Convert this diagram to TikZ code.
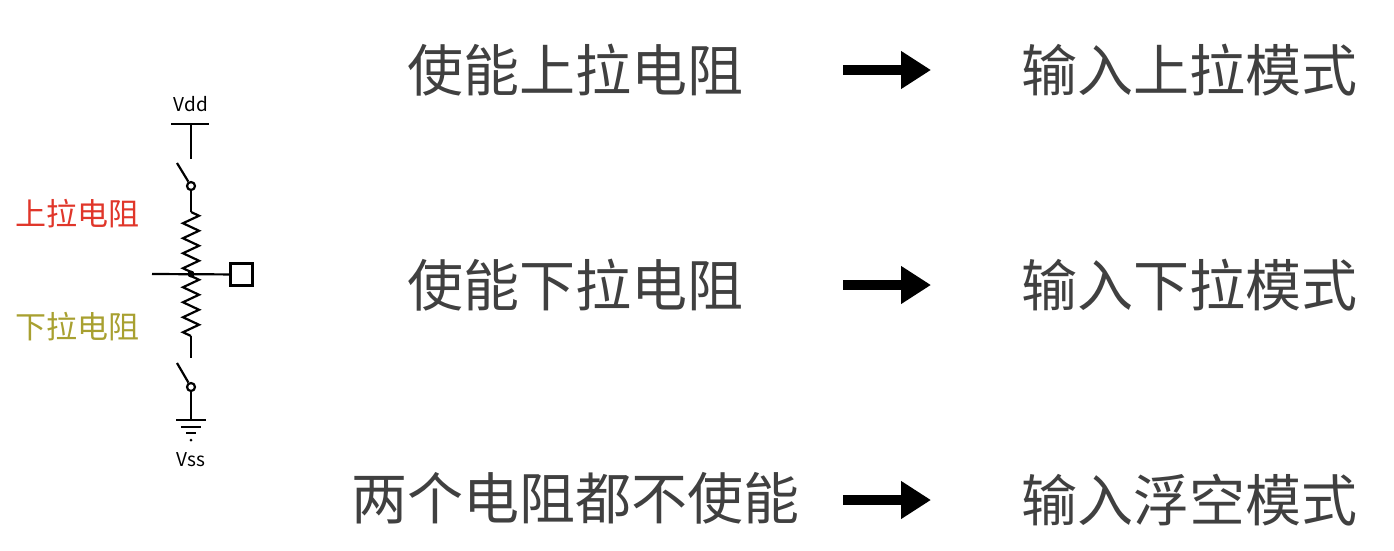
\documentclass[tikz,border=0pt]{standalone}
\usepackage{fontspec}
\setmainfont{Noto Sans CJK SC}
\usetikzlibrary{arrows.meta,decorations.pathmorphing}
\definecolor{txtgray}{HTML}{404040}
\definecolor{pullup}{HTML}{E0362A}
\definecolor{pulldown}{HTML}{A8A030}
\tikzset{
  big/.style={font=\fontsize{56}{56}\selectfont, text=txtgray, inner sep=0pt},
  small/.style={font=\fontsize{31}{31}\selectfont, inner sep=0pt},
  wire/.style={line width=2.2pt},
  res/.style={wire, decorate, decoration={zigzag, segment length=15pt, amplitude=8pt}},
  go/.style={line width=10pt, -{Triangle[length=30pt,width=36pt]}},
}
\begin{document}
\begin{tikzpicture}[x=1pt,y=-1pt]
\useasboundingbox (0,0) rectangle (1394,551);
% circuit
\node[small, font=\fontsize{19}{19}\selectfont] (vdd) at (191,104) {Vdd};
\node[small, font=\fontsize{19}{19}\selectfont] (vss) at (191,460) {Vss};
\coordinate (vddl) at (171,124); \coordinate (vddr) at (209,124);
\coordinate (vtop) at (191,124);
\coordinate (s1a) at (191,159); \coordinate (s1b) at (177,163);
\coordinate (r1t) at (191,212); \coordinate (r1b) at (191,272);
\coordinate (mid) at (191,274);
\coordinate (r2t) at (191,276); \coordinate (r2b) at (191,336);
\coordinate (s2a) at (191,358); \coordinate (s2b) at (177,363);
\coordinate (gnd) at (191,420);
\coordinate (inl) at (152,274);
\node[draw, wire, minimum size=22pt, inner sep=0pt] (pin) at (241.5,274.5) {};
\node[draw, wire, circle, minimum size=8pt, inner sep=0pt, fill=white] (c1) at (191,186) {};
\node[draw, wire, circle, minimum size=8pt, inner sep=0pt, fill=white] (c2) at (191,387) {};
\draw[wire] (vddl) -- (vddr);
\draw[wire] (vtop) -- (s1a);
\draw[wire] (s1b) -- (c1);
\draw[wire] (c1) -- (r1t);
\draw[res] (r1t) -- (r1b);
\draw[wire] (r1b) -- (r2t);
\draw[res] (r2t) -- (r2b);
\draw[wire] (r2b) -- (s2a);
\draw[wire] (s2b) -- (c2);
\draw[wire] (c2) -- (gnd);
\draw[wire] (inl) -- (pin);
\fill (mid) circle (3.5pt);
\draw[wire] (176,420) -- (206,420);
\draw[wire] (181,427) -- (201,427);
\draw[wire] (186,433) -- (196,433);
\fill (191,440) circle (1.5pt);
\node[small, text=pullup] (uplbl) at (77,214) {上拉电阻};
\node[small, text=pulldown] (dnlbl) at (77,327) {下拉电阻};
% modes
\node[big] (en1) at (575,70) {使能上拉电阻};
\node[big] (en2) at (575,285) {使能下拉电阻};
\node[big] (en3) at (575,498) {两个电阻都不使能};
\node[big] (m1) at (1189,70) {输入上拉模式};
\node[big] (m2) at (1189,285) {输入下拉模式};
\node[big] (m3) at (1189,500) {输入浮空模式};
\foreach \y in {70,285,500}
  \draw[go] (843,\y) -- (931,\y);
\end{tikzpicture}
\end{document}
